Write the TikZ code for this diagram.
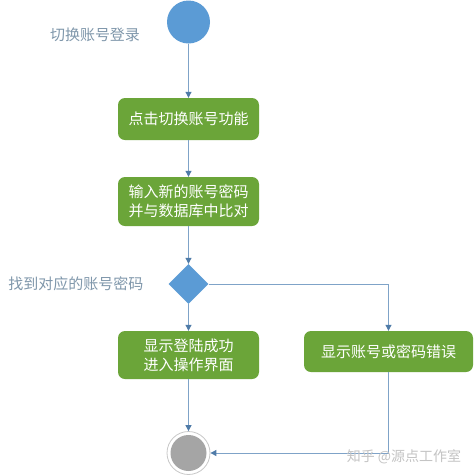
\documentclass[tikz,border=0pt]{standalone}
\usepackage{fontspec}
\setmainfont{Noto Sans CJK SC}
\usetikzlibrary{arrows.meta,shapes.geometric}
\definecolor{actgreen}{HTML}{6BA539}
\definecolor{nodeblue}{HTML}{5B9BD5}
\definecolor{linecol}{HTML}{7FA3C8}
\definecolor{tipcol}{HTML}{4F7BA8}
\definecolor{labelcol}{HTML}{7F97AB}
\definecolor{endgray}{HTML}{A5A5A5}
\definecolor{ringgray}{HTML}{C8C8C8}
\definecolor{wmcol}{HTML}{C4C4C4}
\begin{document}
\begin{tikzpicture}[x=1pt,y=-1pt,
  act/.style={draw=none, fill=actgreen, rounded corners=7pt, text=white,
    font=\fontsize{15}{19}\selectfont, align=center, inner sep=0pt},
  flow/.style={draw=linecol, line width=1pt,
    -{Triangle[length=6pt,width=6pt,color=tipcol]}},
  lbl/.style={text=labelcol, font=\fontsize{15}{17}\selectfont, inner sep=0pt}]
\useasboundingbox (0,0) rectangle (474,475);
\fill[white] (0,0) rectangle (474,475);
% start
\node[circle, fill=nodeblue, minimum size=43pt, inner sep=0pt] (start) at (188.5,22) {};
\node[lbl] (startlbl) at (95,35) {切换账号登录};
% activities
\node[act, minimum width=141pt, minimum height=42pt] (b1) at (188.5,119) {点击切换账号功能};
\node[act, minimum width=141pt, minimum height=49pt] (b2) at (188.5,201.5) {输入新的账号密码\\并与数据库中比对};
% decision
\node[diamond, aspect=1, fill=nodeblue, minimum width=40pt, minimum height=40pt, inner sep=0pt] (dec) at (188.5,284) {};
\node[lbl] (declbl) at (76,284) {找到对应的账号密码};
\node[act, minimum width=141pt, minimum height=48pt] (b3) at (188.5,355) {显示登陆成功\\进入操作界面};
\node[act, minimum width=169pt, minimum height=41pt] (b4) at (388.5,351.5) {显示账号或密码错误};
% end
\node[circle, draw=ringgray, line width=0.8pt, fill=white, minimum size=43pt, inner sep=0pt] (endo) at (188.5,453) {};
\node[circle, fill=endgray, minimum size=36pt, inner sep=0pt] (endi) at (188.5,453) {};
% connectors
\draw[flow] (start) -- (b1);
\draw[flow] (b1) -- (b2);
\draw[flow] (b2) -- (dec);
\draw[flow] (dec) -- (b3);
\draw[flow] (dec.east) -| (b4.north);
\draw[flow] (b3) -- (endo);
\draw[flow] (b4.south) |- (endo.east);
% watermark
\node[text=wmcol, font=\fontsize{14}{16}\selectfont, inner sep=0pt] (wm) at (404,457) {知乎 @源点工作室};
\end{tikzpicture}
\end{document}
